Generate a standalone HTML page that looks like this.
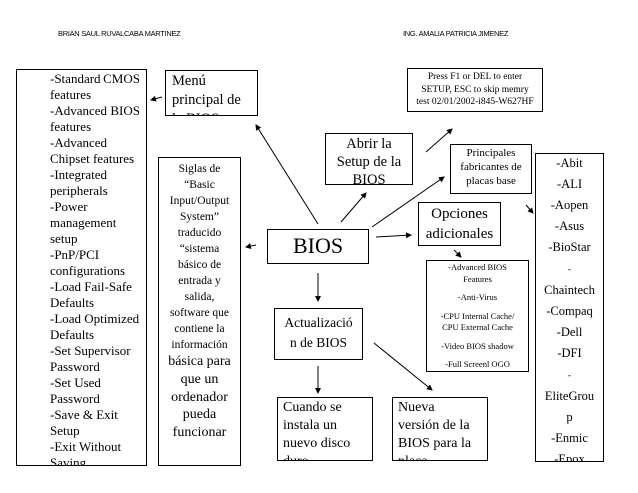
<!DOCTYPE html>
<html><head><meta charset="utf-8">
<style>
html,body{margin:0;padding:0;background:#fff;}
body{width:638px;height:493px;position:relative;overflow:hidden;font-family:"Liberation Serif",serif;color:#000;}
.b{position:absolute;border:1.3px solid #000;box-sizing:border-box;overflow:hidden;background:#fff;}
.h{position:absolute;font-family:"Liberation Sans",sans-serif;font-size:7.5px;letter-spacing:-0.3px;top:29px;}
.c{text-align:center;}
.L div{white-space:nowrap;height:16px;}
.j{display:flex;justify-content:space-between;}
</style></head><body>
<div class="h" style="left:58px">BRIAN SAUL RUVALCABA MARTINEZ</div>
<div class="h" style="left:403px">ING. AMALIA PATRICIA JIMENEZ</div>

<div class="b" style="left:16px;top:69px;width:131px;height:397px;">
 <div class="L" style="position:absolute;left:33px;top:1px;width:90px;font-size:13px;line-height:16px;">
 <div class="j"><span>-Standard</span><span>CMOS</span></div><div>features</div>
 <div class="j"><span>-Advanced</span><span>BIOS</span></div><div>features</div>
 <div>-Advanced</div><div>Chipset features</div><div>-Integrated</div><div>peripherals</div>
 <div>-Power</div><div>management</div><div>setup</div><div>-PnP/PCI</div><div>configurations</div>
 <div>-Load Fail-Safe</div><div>Defaults</div><div>-Load Optimized</div><div>Defaults</div>
 <div>-Set Supervisor</div><div>Password</div><div>-Set Used</div><div>Password</div>
 <div>-Save &amp; Exit</div><div>Setup</div><div>-Exit Without</div><div>Saving</div>
 </div>
</div>

<div class="b" style="left:165px;top:70px;width:93px;height:46px;">
 <div style="position:absolute;left:6px;top:1px;font-size:14.5px;line-height:19px;">Menú<br>principal de<br>la BIOS</div>
</div>

<div class="b" style="left:158px;top:157px;width:83px;height:309px;">
 <div class="c" style="position:absolute;left:0;width:81px;top:3px;font-size:11.5px;line-height:16px;">Siglas de<br>“Basic<br>Input/Output<br>System”<br>traducido<br>“sistema<br>básico de<br>entrada y<br>salida,<br>software que<br>contiene la<br>información</div>
 <div class="c" style="position:absolute;left:0;width:81px;top:195px;font-size:14px;line-height:17.8px;">básica para<br>que un<br>ordenador<br>pueda<br>funcionar</div>
</div>

<div class="b" style="left:267px;top:229px;width:102px;height:35px;">
 <div class="c" style="position:absolute;left:0;width:100px;top:3px;font-size:22px;line-height:26px;">BIOS</div>
</div>

<div class="b" style="left:325px;top:133px;width:88px;height:52px;">
 <div class="c" style="position:absolute;left:0;width:86px;top:1px;font-size:14.5px;line-height:18px;">Abrir la<br>Setup de la<br>BIOS</div>
</div>

<div class="b" style="left:407px;top:68px;width:136px;height:44px;">
 <div class="c" style="position:absolute;left:0;width:134px;top:2px;font-size:9.5px;line-height:12.5px;">Press F1 or DEL to enter<br>SETUP, ESC to skip memry<br>test 02/01/2002-i845-W627HF</div>
</div>

<div class="b" style="left:450px;top:144px;width:82px;height:50px;">
 <div class="c" style="position:absolute;left:0;width:80px;top:1px;font-size:11px;line-height:14px;">Principales<br>fabricantes de<br>placas base</div>
</div>

<div class="b" style="left:535px;top:153px;width:69px;height:309px;">
 <div class="c" style="position:absolute;left:0;width:67px;top:-1px;font-size:12.5px;line-height:21px;">-Abit<br>-ALI<br>-Aopen<br>-Asus<br>-BioStar<br><span style="font-size:9px">-</span><br>Chaintech<br>-Compaq<br>-Dell<br>-DFI<br><span style="font-size:9px">-</span><br>EliteGrou<br>p<br>-Enmic<br>-Epox</div>
</div>

<div class="b" style="left:418px;top:202px;width:83px;height:44px;">
 <div class="c" style="position:absolute;left:0;width:81px;top:1px;font-size:15px;line-height:20px;">Opciones<br>adicionales</div>
</div>

<div class="b" style="left:426px;top:260px;width:103px;height:112px;">
 <div class="c" style="position:absolute;left:0;width:101px;top:1px;font-size:8.5px;line-height:11.5px;">-Advanced BIOS<br>Features<div style="height:7px"></div>-Anti-Virus<div style="height:7px"></div>-CPU Internal Cache/<br>CPU External Cache<div style="height:7px"></div>-Video BIOS shadow<div style="height:7px"></div>-Full Screenl OGO</div>
</div>

<div class="b" style="left:274px;top:308px;width:89px;height:52px;">
 <div class="c" style="position:absolute;left:0;width:87px;top:4px;font-size:13.5px;line-height:20px;">Actualizació<br>n de BIOS</div>
</div>

<div class="b" style="left:277px;top:397px;width:96px;height:64px;">
 <div style="position:absolute;left:5px;top:1px;font-size:14px;line-height:18px;">Cuando se<br>instala un<br>nuevo disco<br>duro</div>
</div>

<div class="b" style="left:392px;top:397px;width:96px;height:64px;">
 <div style="position:absolute;left:5px;top:1px;font-size:14px;line-height:18px;">Nueva<br>versión de la<br>BIOS para la<br>placa</div>
</div>

<svg width="638" height="493" style="position:absolute;left:0;top:0" xmlns="http://www.w3.org/2000/svg">
<defs><marker id="a" markerWidth="6" markerHeight="6" refX="5" refY="3" orient="auto" markerUnits="userSpaceOnUse"><path d="M0,0 L6,3 L0,6 z" fill="#000"/></marker></defs>
<g stroke="#000" stroke-width="1" fill="none" marker-end="url(#a)">
<line x1="162" y1="97" x2="151" y2="100"/>
<line x1="318" y1="224" x2="256" y2="125"/>
<line x1="256" y1="245" x2="246" y2="247"/>
<line x1="341" y1="222" x2="366" y2="193"/>
<line x1="426" y1="152" x2="452" y2="129"/>
<line x1="372" y1="227" x2="444" y2="177"/>
<line x1="376" y1="237" x2="411" y2="235"/>
<line x1="526" y1="205" x2="533" y2="213"/>
<line x1="454" y1="250" x2="461" y2="257"/>
<line x1="318" y1="273" x2="318" y2="301"/>
<line x1="318" y1="366" x2="318" y2="393"/>
<line x1="374" y1="343" x2="432" y2="390"/>
</g>
</svg>
</body></html>
